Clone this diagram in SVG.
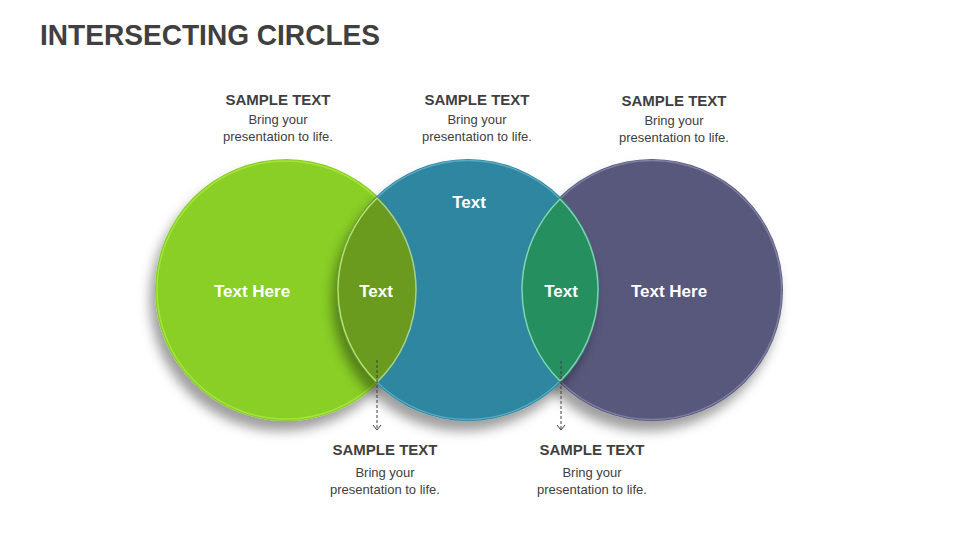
<svg xmlns="http://www.w3.org/2000/svg" width="960" height="540" viewBox="0 0 960 540">
<defs>
<filter id="sh" x="-20%" y="-20%" width="140%" height="150%">
<feDropShadow dx="-5" dy="10" stdDeviation="6" flood-color="#000" flood-opacity="0.38"/>
</filter>
<marker id="arr" markerWidth="10" markerHeight="10" refX="8" refY="5" orient="auto" markerUnits="userSpaceOnUse" viewBox="0 0 10 10">
<path d="M3,1 L8,5 L3,9" fill="none" stroke="#404040" stroke-width="1"/>
</marker>
<style>
.title{font-family:"Liberation Sans",Arial,sans-serif;font-weight:bold;font-size:30px;fill:#404040}
.hd{font-family:"Liberation Sans",Arial,sans-serif;font-weight:bold;font-size:15px;fill:#3f3f3f;text-anchor:middle}
.bd{font-family:"Liberation Sans",Arial,sans-serif;font-size:13px;fill:#404040;text-anchor:middle}
.lb{font-family:"Liberation Sans",Arial,sans-serif;font-weight:bold;font-size:17px;fill:#ffffff;text-anchor:middle}
.rim{fill:none;stroke-width:1.5}
.dash{stroke:#404040;stroke-width:1;stroke-dasharray:3,2;fill:none}
</style>
</defs>
<rect width="960" height="540" fill="#ffffff"/>
<text class="title" x="40" y="45" textLength="340" lengthAdjust="spacingAndGlyphs">INTERSECTING CIRCLES</text>

<g id="circle-green">
<circle cx="286" cy="290" r="131" fill="#89cf28" filter="url(#sh)"/>
<circle cx="286" cy="290" r="129" class="rim" stroke="#b6f04a" stroke-opacity="0.6"/>
</g>
<g id="circle-purple">
<circle cx="652" cy="290" r="131" fill="#59587c" filter="url(#sh)"/>
<circle cx="652" cy="290" r="129.5" class="rim" stroke="#9a9ac0" stroke-opacity="0.6"/>
</g>
<g id="circle-blue">
<circle cx="468" cy="290" r="131" fill="#2f86a0" filter="url(#sh)"/>
<circle cx="468" cy="290" r="129.5" class="rim" stroke="#7fcbe0" stroke-opacity="0.5"/>
</g>
<g id="lens-left">
<path d="M377,196 A131,131 0 0 0 377,384 A131,131 0 0 0 377,196 Z" fill="#6a9b1e"/>
<path d="M377,198 A128,128 0 0 0 377,382" class="rim" stroke="#d8ff80" stroke-opacity="0.7"/>
<path d="M377,198 A128,128 0 0 1 377,382" class="rim" stroke="#bff0ff" stroke-opacity="0.6"/>
</g>
<g id="lens-right">
<path d="M560,197 A131,131 0 0 0 560,383 A131,131 0 0 0 560,197 Z" fill="#258f60"/>
<path d="M560,199 A128,128 0 0 0 560,381" class="rim" stroke="#a8f0e0" stroke-opacity="0.7"/>
<path d="M560,199 A128,128 0 0 1 560,381" class="rim" stroke="#c8f5e8" stroke-opacity="0.6"/>
</g>

<g id="connectors">
<line class="dash" x1="377" y1="360" x2="377" y2="430" marker-end="url(#arr)"/>
<line class="dash" x1="561" y1="361" x2="561" y2="430" marker-end="url(#arr)"/>
</g>

<g id="labels-in">
<text class="lb" x="252" y="297">Text Here</text>
<text class="lb" x="376" y="297">Text</text>
<text class="lb" x="469" y="208">Text</text>
<text class="lb" x="561" y="297">Text</text>
<text class="lb" x="669" y="297">Text Here</text>
</g>

<g id="label-top-1">
<text class="hd" x="278" y="105">SAMPLE TEXT</text>
<text class="bd" x="278" y="124">Bring your</text>
<text class="bd" x="278" y="141">presentation to life.</text>
</g>
<g id="label-top-2">
<text class="hd" x="477" y="105">SAMPLE TEXT</text>
<text class="bd" x="477" y="124">Bring your</text>
<text class="bd" x="477" y="141">presentation to life.</text>
</g>
<g id="label-top-3">
<text class="hd" x="674" y="106">SAMPLE TEXT</text>
<text class="bd" x="674" y="125">Bring your</text>
<text class="bd" x="674" y="142">presentation to life.</text>
</g>
<g id="label-bottom-1">
<text class="hd" x="385" y="455">SAMPLE TEXT</text>
<text class="bd" x="385" y="477">Bring your</text>
<text class="bd" x="385" y="494">presentation to life.</text>
</g>
<g id="label-bottom-2">
<text class="hd" x="592" y="455">SAMPLE TEXT</text>
<text class="bd" x="592" y="477">Bring your</text>
<text class="bd" x="592" y="494">presentation to life.</text>
</g>
</svg>
